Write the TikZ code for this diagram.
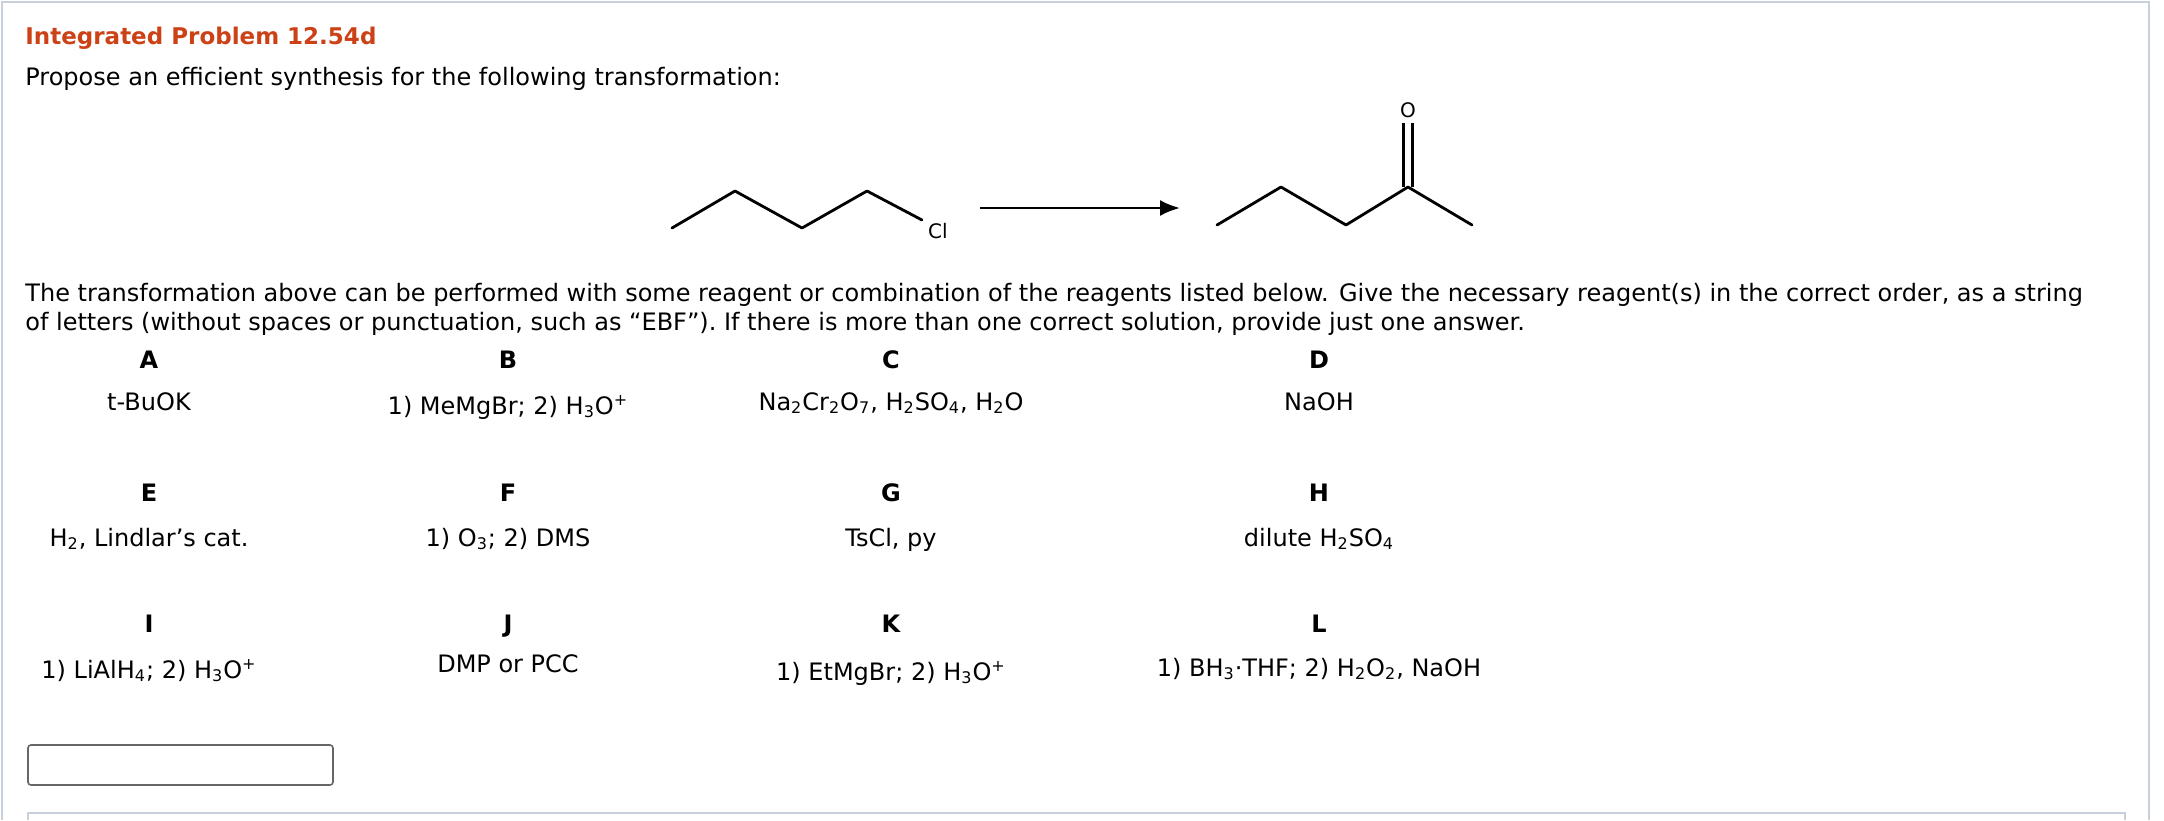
\documentclass[tikz,border=0pt]{standalone}
\usepackage{fontspec}
\usetikzlibrary{arrows.meta}
\setmainfont{DejaVu Sans}
\definecolor{ttl}{RGB}{204,66,22}
\definecolor{frame}{RGB}{200,208,220}
\newcommand{\sbs}[1]{\textsubscript{#1}}
\newcommand{\sps}[1]{\textsuperscript{#1}}
\begin{document}
\begin{tikzpicture}[x=0.5pt,y=-0.5pt,
  body/.style={font=\fontsize{12}{14}\selectfont,inner sep=0pt},
  lbl/.style={font=\fontsize{12}{14}\selectfont\bfseries,inner sep=0pt,anchor=base},
  rg/.style={body,anchor=base},
  bond/.style={line width=1.4pt,line cap=round,line join=round}]
\useasboundingbox (0,0) rectangle (2164,820);
\fill[white] (0,0) rectangle (2164,820);
\draw[frame,line width=1.2pt] (2,820) -- (2,2) -- (2149,2) -- (2149,820);
\draw[frame,line width=1.2pt] (28,820) -- (28,813) -- (2125,813) -- (2125,820);
\node[anchor=base west,inner sep=0pt,text=ttl,font=\fontsize{11.5}{14}\selectfont\bfseries] (title) at (25,44) {Integrated Problem 12.54d};
\node[body,anchor=base west] (prop) at (25,85) {Propose an efficient synthesis for the following transformation:};
% reactant
\coordinate (r1) at (672,228); \coordinate (r2) at (735,191); \coordinate (r3) at (802,228);
\coordinate (r4) at (867,191); \coordinate (r5) at (922,220);
\draw[bond] (r1) -- (r2) -- (r3) -- (r4) -- (r5);
\node[inner sep=0pt,font=\fontsize{10}{12}\selectfont] (cl) at (938,231) {Cl};
% arrow
\coordinate (a1) at (980,208); \coordinate (a2) at (1180,208);
\draw[line width=1.3pt,-{Latex[length=10pt,width=8pt]}] (a1) -- (a2);
% product
\coordinate (p1) at (1217,225); \coordinate (p2) at (1281,187); \coordinate (p3) at (1346,225);
\coordinate (p4) at (1408,187); \coordinate (p5) at (1472,225);
\draw[bond] (p1) -- (p2) -- (p3) -- (p4) -- (p5);
\node[inner sep=0pt,font=\fontsize{10}{12}\selectfont] (o) at (1408,110) {O};
\draw[line width=1.2pt] ([xshift=-2.2pt]p4) -- ++(0,-64);
\draw[line width=1.2pt] ([xshift=2.2pt]p4) -- ++(0,-64);
% paragraph
\node[body,anchor=base west] (par1) at (25,301) {The transformation above can be performed with some reagent or combination of the reagents listed below. Give the necessary reagent(s) in the correct order, as a string};
\node[body,anchor=base west] (par2) at (25,330) {of letters (without spaces or punctuation, such as “EBF”). If there is more than one correct solution, provide just one answer.};
% labels
\node[lbl] (A) at (149,368) {A}; \node[lbl] (B) at (508,368) {B};
\node[lbl] (C) at (891,368) {C}; \node[lbl] (D) at (1319,368) {D};
\node[rg] (ra) at (149,410) {t-BuOK};
\node[rg] (rb) at (508,414) {1) MeMgBr; 2) H\sbs{3}O\sps{+}};
\node[rg] (rc) at (891,410) {Na\sbs{2}Cr\sbs{2}O\sbs{7}, H\sbs{2}SO\sbs{4}, H\sbs{2}O};
\node[rg] (rd) at (1319,410) {NaOH};
\node[lbl] (E) at (149,501) {E}; \node[lbl] (F) at (508,501) {F};
\node[lbl] (G) at (891,501) {G}; \node[lbl] (H) at (1319,501) {H};
\node[rg] (re) at (149,546) {H\sbs{2}, Lindlar's cat.};
\node[rg] (rf) at (508,546) {1) O\sbs{3}; 2) DMS};
\node[rg] (rgg) at (891,546) {TsCl, py};
\node[rg] (rh) at (1319,546) {dilute H\sbs{2}SO\sbs{4}};
\node[lbl] (I) at (149,632) {I}; \node[lbl] (J) at (508,632) {J};
\node[lbl] (K) at (891,632) {K}; \node[lbl] (L) at (1319,632) {L};
\node[rg] (ri) at (149,678) {1) LiAlH\sbs{4}; 2) H\sbs{3}O\sps{+}};
\node[rg] (rj) at (508,672) {DMP or PCC};
\node[rg] (rk) at (891,680) {1) EtMgBr; 2) H\sbs{3}O\sps{+}};
\node[rg] (rl) at (1319,676) {1) BH\sbs{3}·THF; 2) H\sbs{2}O\sbs{2}, NaOH};
% input box
\draw[gray!80!black,line width=0.8pt,rounded corners=1.5pt] (28,745) rectangle (333,785);
\end{tikzpicture}
\end{document}
